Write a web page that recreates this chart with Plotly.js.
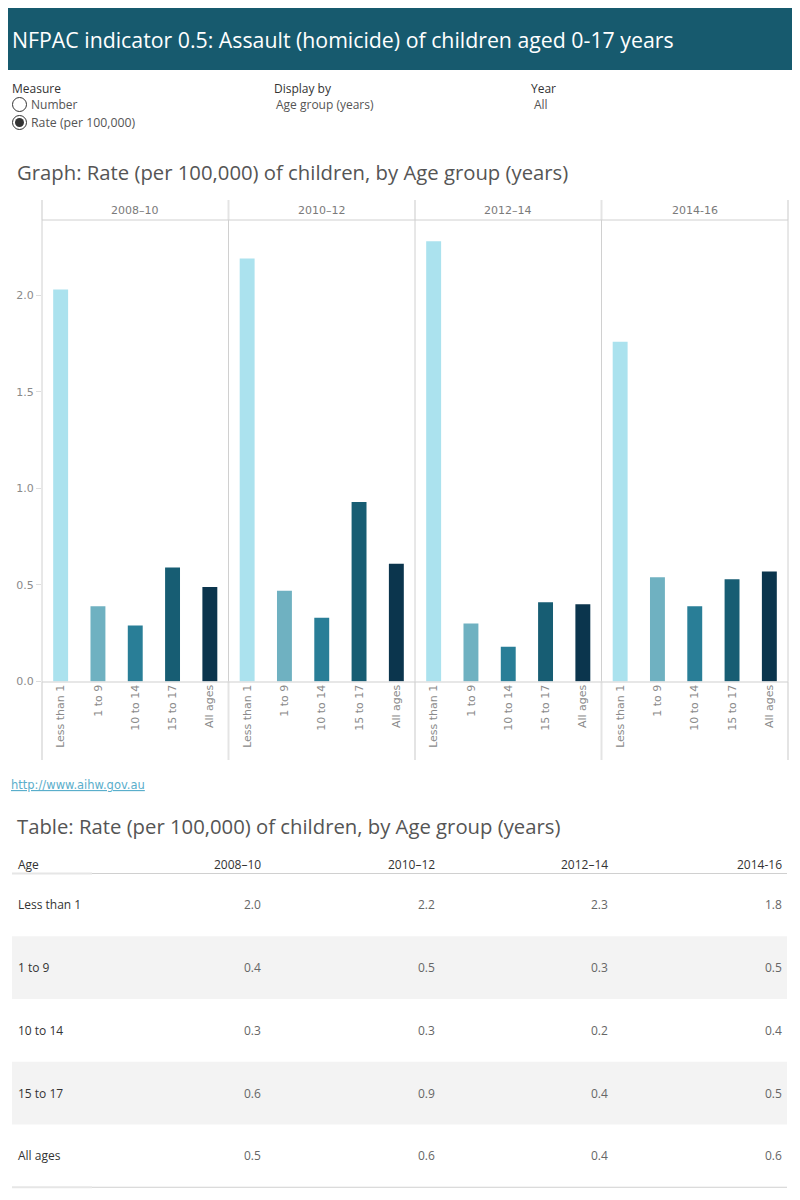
<!DOCTYPE html>
<html>
<head>
<meta charset="utf-8">
<script src="https://cdn.plot.ly/plotly-3.0.1.min.js"></script>
<style>
  html, body { margin: 0; padding: 0; background: #ffffff; }
  #chart { width: 800px; height: 1200px; }
</style>
</head>
<body>
<div id="chart"></div>
<script>
// ---------------- DATA ----------------
const periods = ['2008–10', '2010–12', '2012–14', '2014-16'];
const ageGroups = ['Less than 1', '1 to 9', '10 to 14', '15 to 17', 'All ages'];
const rate2008_10 = [2.03, 0.39, 0.29, 0.59, 0.49];
const rate2010_12 = [2.19, 0.47, 0.33, 0.93, 0.61];
const rate2012_14 = [2.28, 0.30, 0.18, 0.41, 0.40];
const rate2014_16 = [1.76, 0.54, 0.39, 0.53, 0.57];
const yTicks = [0, 0.5, 1.0, 1.5, 2.0];
const ageColors = ['#abe2ee', '#6fb1c1', '#297e97', '#175d73', '#0b354d'];

const seriesByPeriod = [rate2008_10, rate2010_12, rate2012_14, rate2014_16];

// ---------------- LAYOUT HELPERS ----------------
const W = 800, H = 1200;
const px = x => x / W;
const py = y => 1 - y / H;

const FONT = 'Open Sans, Noto Sans, sans-serif';
const AXFONT = 'DejaVu Sans, Verdana, sans-serif';

// facet geometry (pixels)
const panelEdges = [42, 228.5, 415, 601.5, 788];
const plotTop = 220, plotBottom = 681.5, stripTop = 200, labelBottom = 760;

const traces = [];
const layout = {
  width: W, height: H,
  margin: {l: 0, r: 0, t: 0, b: 0},
  paper_bgcolor: '#ffffff',
  plot_bgcolor: 'rgba(0,0,0,0)',
  showlegend: false,
  bargap: 0.6,
  font: {family: FONT, color: '#555'},
  yaxis: {
    domain: [py(plotBottom), py(plotTop)],
    range: [0, 2.39],
    tickvals: yTicks,
    ticktext: yTicks.map(v => v.toFixed(1)),
    ticks: 'outside', ticklen: 5, tickcolor: '#dddddd', tickwidth: 1,
    showgrid: false, zeroline: false, showline: false,
    tickfont: {family: AXFONT, size: 11, color: '#8a8a8a'},
    anchor: 'x', fixedrange: true
  },
  shapes: [],
  annotations: []
};

periods.forEach((p, i) => {
  const axName = i === 0 ? 'xaxis' : 'xaxis' + (i + 1);
  const axRef = i === 0 ? 'x' : 'x' + (i + 1);
  layout[axName] = {
    domain: [px(panelEdges[i]), px(panelEdges[i + 1])],
    type: 'category',
    tickangle: -90,
    tickfont: {family: AXFONT, size: 11, color: '#8a8a8a'},
    showgrid: false, zeroline: false, showline: false,
    ticks: '', anchor: 'y', fixedrange: true
  };
  traces.push({
    type: 'bar',
    x: ageGroups,
    y: seriesByPeriod[i],
    xaxis: axRef, yaxis: 'y',
    marker: {color: ageColors},
    hovertemplate: p + '<br>%{x}: %{y:.1f}<extra></extra>'
  });
  // facet header label
  layout.annotations.push({
    xref: 'paper', yref: 'paper',
    x: px((panelEdges[i] + panelEdges[i + 1]) / 2), y: py(211),
    xanchor: 'center', yanchor: 'middle', showarrow: false,
    text: p, font: {family: AXFONT, size: 11, color: '#7a7a7a'}
  });
});

// facet frame lines
panelEdges.forEach((xe, i) => {
  layout.shapes.push({type: 'line', xref: 'paper', yref: 'paper',
    x0: px(xe), x1: px(xe), y0: py(stripTop), y1: py(plotTop),
    line: {color: '#e4e4e4', width: 2}});
  layout.shapes.push({type: 'line', xref: 'paper', yref: 'paper',
    x0: px(xe), x1: px(xe), y0: py(plotTop), y1: py(plotBottom),
    line: {color: '#d0d0d0', width: 1}});
  layout.shapes.push({type: 'line', xref: 'paper', yref: 'paper',
    x0: px(xe), x1: px(xe), y0: py(plotBottom), y1: py(labelBottom),
    line: {color: '#e4e4e4', width: 2}});
});
layout.shapes.push({type: 'line', xref: 'paper', yref: 'paper',
  x0: px(42), x1: px(788), y0: py(plotTop), y1: py(plotTop),
  line: {color: '#d0d0d0', width: 1}});
layout.shapes.push({type: 'line', xref: 'paper', yref: 'paper',
  x0: px(42), x1: px(788), y0: py(plotBottom + 0.5), y1: py(plotBottom + 0.5),
  line: {color: '#cfcfcf', width: 1}});

// ---------------- DASHBOARD HEADER ----------------
layout.shapes.push({type: 'rect', xref: 'paper', yref: 'paper',
  x0: px(8), x1: px(792), y0: py(70), y1: py(8),
  fillcolor: '#175a6e', line: {width: 0}, layer: 'below'});
layout.annotations.push({xref: 'paper', yref: 'paper', x: px(10), y: py(40),
  xanchor: 'left', yanchor: 'middle', showarrow: false,
  text: 'NFPAC indicator 0.5: Assault (homicide) of children aged 0-17 years',
  font: {family: FONT, size: 21.3, color: '#ffffff'}});

// filters
const filterLabel = (x, y, t, opts) => layout.annotations.push(Object.assign({
  xref: 'paper', yref: 'paper', x: px(x), y: py(y), xanchor: 'left', yanchor: 'middle',
  showarrow: false, text: t, font: {family: FONT, size: 11.5, color: '#333'}}, opts || {}));
filterLabel(10, 88, 'Measure', {font: {family: FONT, size: 12, color: '#333'}});
filterLabel(29, 104, 'Number', {font: {family: FONT, size: 12, color: '#555'}});
filterLabel(29, 122, 'Rate (per 100,000)', {font: {family: FONT, size: 12.3, color: '#555'}});
filterLabel(272, 88, 'Display by', {font: {family: FONT, size: 12, color: '#333'}});
filterLabel(274, 104, 'Age group (years)', {font: {family: FONT, size: 12, color: '#555'}});
filterLabel(529, 88, 'Year', {font: {family: FONT, size: 12, color: '#333'}});
filterLabel(532, 104, 'All', {font: {family: FONT, size: 12, color: '#555'}});
// radio buttons
const circle = (cx, cy, r, fill, lineColor) => layout.shapes.push({type: 'circle',
  xref: 'paper', yref: 'paper', x0: px(cx - r), x1: px(cx + r), y0: py(cy + r), y1: py(cy - r),
  fillcolor: fill, line: {color: lineColor, width: lineColor ? 1 : 0}});
circle(19.5, 104.5, 7, '#ffffff', '#333333');
circle(19.5, 122.5, 7, '#ffffff', '#333333');
circle(19.5, 122.5, 4.5, '#333333', null);

// chart title
layout.annotations.push({xref: 'paper', yref: 'paper', x: px(15), y: py(172),
  xanchor: 'left', yanchor: 'middle', showarrow: false,
  text: 'Graph: Rate (per 100,000) of children, by Age group (years)',
  font: {family: FONT, size: 20.3, color: '#555'}});

// link
layout.annotations.push({xref: 'paper', yref: 'paper', x: px(9), y: py(785),
  xanchor: 'left', yanchor: 'middle', showarrow: false,
  text: '<span style="text-decoration:underline">http://www.aihw.gov.au</span>',
  font: {family: AXFONT, size: 11.5, color: '#5aaecb'}});

// ---------------- TABLE ----------------
layout.annotations.push({xref: 'paper', yref: 'paper', x: px(15), y: py(826),
  xanchor: 'left', yanchor: 'middle', showarrow: false,
  text: 'Table: Rate (per 100,000) of children, by Age group (years)',
  font: {family: FONT, size: 20.3, color: '#555'}});

const tableLeft = 12, tableRight = 787;
const colRight = [263, 437, 610, 784];
const headerY = 864, headerLine = 873.5, rowH = 62.75;

layout.annotations.push({xref: 'paper', yref: 'paper', x: px(16), y: py(headerY),
  xanchor: 'left', yanchor: 'middle', showarrow: false, text: 'Age',
  font: {family: FONT, size: 12, color: '#333'}});
periods.forEach((p, j) => {
  layout.annotations.push({xref: 'paper', yref: 'paper', x: px(colRight[j]), y: py(headerY),
    xanchor: 'right', yanchor: 'middle', showarrow: false, text: p,
    font: {family: FONT, size: 12, color: '#333'}});
});
layout.shapes.push({type: 'line', xref: 'paper', yref: 'paper',
  x0: px(tableLeft), x1: px(92), y0: py(headerLine), y1: py(headerLine),
  line: {color: '#e6e6e6', width: 2}});
layout.shapes.push({type: 'line', xref: 'paper', yref: 'paper',
  x0: px(92), x1: px(tableRight), y0: py(headerLine), y1: py(headerLine),
  line: {color: '#d0d0d0', width: 1}});

ageGroups.forEach((a, i) => {
  const top = headerLine + i * rowH, mid = top + rowH / 2;
  if (i % 2 === 1) {
    layout.shapes.push({type: 'rect', xref: 'paper', yref: 'paper', layer: 'below',
      x0: px(tableLeft), x1: px(tableRight), y0: py(top + rowH), y1: py(top),
      fillcolor: '#f3f3f3', line: {width: 0}});
  }
  layout.annotations.push({xref: 'paper', yref: 'paper', x: px(16), y: py(mid),
    xanchor: 'left', yanchor: 'middle', showarrow: false, text: a,
    font: {family: FONT, size: 12, color: '#333'}});
  seriesByPeriod.forEach((vals, j) => {
    layout.annotations.push({xref: 'paper', yref: 'paper', x: px(colRight[j]), y: py(mid),
      xanchor: 'right', yanchor: 'middle', showarrow: false, text: vals[i].toFixed(1),
      font: {family: FONT, size: 12, color: '#666'}});
  });
});
const tableBottom = headerLine + ageGroups.length * rowH;
layout.shapes.push({type: 'line', xref: 'paper', yref: 'paper',
  x0: px(tableLeft), x1: px(92), y0: py(tableBottom), y1: py(tableBottom),
  line: {color: '#e6e6e6', width: 2}});
layout.shapes.push({type: 'line', xref: 'paper', yref: 'paper',
  x0: px(92), x1: px(tableRight), y0: py(tableBottom), y1: py(tableBottom),
  line: {color: '#d0d0d0', width: 1}});

Plotly.newPlot('chart', traces, layout, {displayModeBar: false, responsive: false});
</script>
</body>
</html>
